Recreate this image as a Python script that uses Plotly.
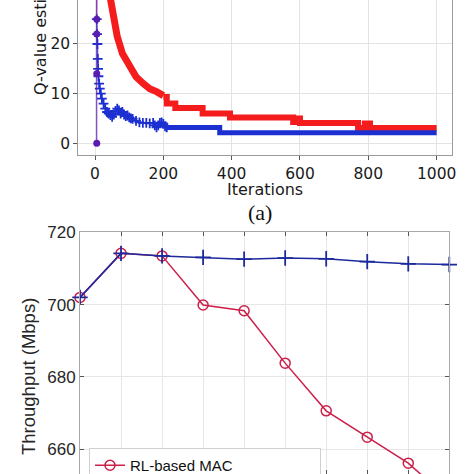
import plotly.graph_objects as go

# (a) Q-value estimate vs iterations
# start of both runs overlap (drawn purple)
overlap_x = [5, 5, 5, 5, 5]
overlap_y = [0, 14, 22, 25, 45]

# red run: thin lead-in, smooth head, then stepped tail
red_lead_x = [5, 10, 44]
red_lead_y = [25, 60, 29.5]
red_head_x = [44, 50, 55, 65, 80, 100, 120, 140, 160, 180, 200]
red_head_y = [29.5, 27.0, 24.8, 21.5, 18.1, 15.4, 13.4, 12.1, 11.0, 10.4, 9.6]
red_tail_x = [200, 210, 235, 315, 395, 580, 590, 600, 770, 790, 805, 1000]
red_tail_y = [9.3, 8.0, 7.1, 6.0, 5.2, 4.3, 5.0, 4.1, 3.1, 4.0, 3.1, 3.1]

# blue run
blue_head_x = [5, 6, 7, 8, 9, 10, 12, 14, 17, 20, 25, 30, 35, 40, 45, 50, 55, 60,
               65, 70, 75, 80, 85, 90, 95, 100, 105, 110, 120, 130, 140, 150, 160,
               170, 175, 180, 185, 190, 195, 200, 205, 210]
blue_head_y = [25, 22, 20, 17, 15, 13.5, 12, 11, 10, 9, 8, 7, 6.3, 6, 5.7, 5.3, 5.8, 6.5,
               7, 6.6, 6, 6.3, 5.8, 5.5, 5.6, 5.2, 5.0, 4.9, 4.5, 4.2, 4.1, 4.1, 4.0,
               4.1, 3.6, 3.2, 3.6, 4.1, 4.2, 3.9, 3.4, 3.2]
blue_tail_x = [210, 365, 1000]
blue_tail_y = [3.2, 2.1, 2.1]

iter_ticks = [0, 200, 400, 600, 800, 1000]
q_ticks = [0, 10, 20]

# (b) throughput
nodes = [1, 2, 3, 4, 5, 6, 7, 8, 9, 10]
thr_rl = [702.0, 714.2, 713.5, 699.9, 698.3, 683.8, 670.6, 663.3, 656.1, 646.0]
thr_other = [702.0, 714.2, 713.5, 713.1, 712.6, 712.9, 712.7, 711.9, 711.3, 711.1]
thr_ticks = [660, 680, 700, 720]

RED = "#f41c1c"
BLUE = "#1c30d2"
PURPLE = "#5a1cae"
RED2 = "#cc1f4a"
BLUE2 = "#1c2a9c"

fig = go.Figure()

# top panel
fig.add_trace(go.Scatter(x=red_lead_x, y=red_lead_y, mode="lines",
                         line=dict(color="#f27ab8", width=1), showlegend=False))
fig.add_trace(go.Scatter(x=red_head_x, y=red_head_y, mode="lines",
                         line=dict(color=RED, width=7), showlegend=False))
fig.add_trace(go.Scatter(x=red_tail_x, y=red_tail_y, mode="lines",
                         line=dict(color=RED, width=6, shape="hv"), showlegend=False))
fig.add_trace(go.Scatter(x=blue_tail_x, y=blue_tail_y, mode="lines",
                         line=dict(color=BLUE, width=5, shape="hv"), showlegend=False))
fig.add_trace(go.Scatter(
    x=blue_head_x, y=blue_head_y, mode="lines+markers",
    line=dict(color=BLUE, width=1),
    marker=dict(symbol="cross-thin", size=7, line=dict(width=1.8, color=BLUE)),
    showlegend=False))
fig.add_trace(go.Scatter(
    x=overlap_x, y=overlap_y, mode="lines+markers",
    line=dict(color=PURPLE, width=1),
    marker=dict(symbol="circle", size=7, color=PURPLE),
    showlegend=False, cliponaxis=False))

# bottom panel
fig.add_trace(go.Scatter(
    x=nodes, y=thr_rl, mode="lines+markers", name="RL-based MAC",
    line=dict(color=RED2, width=1.5),
    marker=dict(symbol="circle-open", size=10, color=RED2, line=dict(width=1.5)),
    xaxis="x2", yaxis="y2", cliponaxis=False))
fig.add_trace(go.Scatter(
    x=nodes, y=thr_other, mode="lines+markers", name="Legacy MAC",
    line=dict(color=BLUE2, width=1.5),
    marker=dict(symbol="cross-thin", size=11, line=dict(width=1.8, color=BLUE2)),
    xaxis="x2", yaxis="y2", cliponaxis=False, showlegend=False))

W = H = 474
top_font = dict(family="DejaVu Sans", size=15.5, color="#1a1a1a")
bot_font = dict(family="Liberation Sans, Arial", size=17, color="#262626")

fig.update_layout(
    width=W, height=H,
    margin=dict(l=0, r=0, t=0, b=0, autoexpand=False),
    paper_bgcolor="white", plot_bgcolor="white",
    xaxis=dict(domain=[78.3 / W, 452 / W], anchor="y", range=[-49, 1045],
               tickvals=iter_ticks, tickfont=top_font, showgrid=True,
               gridcolor="#e3e3e3", showline=True, linecolor="#9a9a9a",
               ticks="outside", ticklen=4, tickcolor="#555", zeroline=False,
               automargin=False),
    yaxis=dict(domain=[1 - 155 / H, 1], anchor="x", range=[-2.36, 28.86],
               tickvals=q_ticks, tickfont=top_font, showgrid=True,
               gridcolor="#e3e3e3", showline=True, linecolor="#9a9a9a", mirror=True,
               ticks="outside", ticklen=4, tickcolor="#555", zeroline=False,
               automargin=False),
    xaxis2=dict(domain=[80 / W, 449.3 / W], anchor="y2", range=[1, 10],
                tickvals=nodes, showticklabels=False, showgrid=True,
                gridcolor="#e6e6e6", showline=True, linecolor="#a8a8a8", mirror="ticks",
                ticks="inside", ticklen=4, tickcolor="#555", zeroline=False,
                automargin=False),
    yaxis2=dict(domain=[0, 1 - 231.7 / H], anchor="x2", range=[653.1, 720.2],
                tickvals=thr_ticks, tickfont=bot_font, showgrid=True,
                gridcolor="#e6e6e6", showline=True, linecolor="#a8a8a8", mirror="ticks",
                ticks="inside", ticklen=4, tickcolor="#555", zeroline=False,
                automargin=False),
    legend=dict(x=89 / W, y=1 - 448 / H, xanchor="left", yanchor="top",
                orientation="h", entrywidth=185,
                bgcolor="white", bordercolor="#cfcfcf", borderwidth=1,
                font=dict(family="Liberation Sans, Arial", size=15, color="#111")),
    annotations=[
        dict(text="Iterations", x=265 / W, y=1 - 189.5 / H, xref="paper", yref="paper",
             showarrow=False, font=dict(family="DejaVu Sans", size=16, color="#1a1a1a"),
             xanchor="center", yanchor="middle"),
        dict(text="(a)", x=260 / W, y=1 - 213 / H, xref="paper", yref="paper",
             showarrow=False, xanchor="center", yanchor="middle",
             font=dict(family="Liberation Serif, Times New Roman", size=22, color="#111")),
        dict(text="Q-value estimate", textangle=-90, x=40 / W, y=1 - 97 / H,
             xref="paper", yref="paper", showarrow=False,
             xanchor="center", yanchor="bottom",
             font=dict(family="DejaVu Sans", size=16, color="#1a1a1a")),
        dict(text="Throughput (Mbps)", textangle=-90, x=28 / W, y=1 - 377 / H,
             xref="paper", yref="paper", showarrow=False,
             xanchor="center", yanchor="middle",
             font=dict(family="Liberation Sans, Arial", size=18.5, color="#262626")),
    ],
)

# drop the browser's default 8px body margin so the figure sits at the corner
fig.write_html("out.html", config={"displayModeBar": False},
               post_script="document.body.style.margin = '0px';")
